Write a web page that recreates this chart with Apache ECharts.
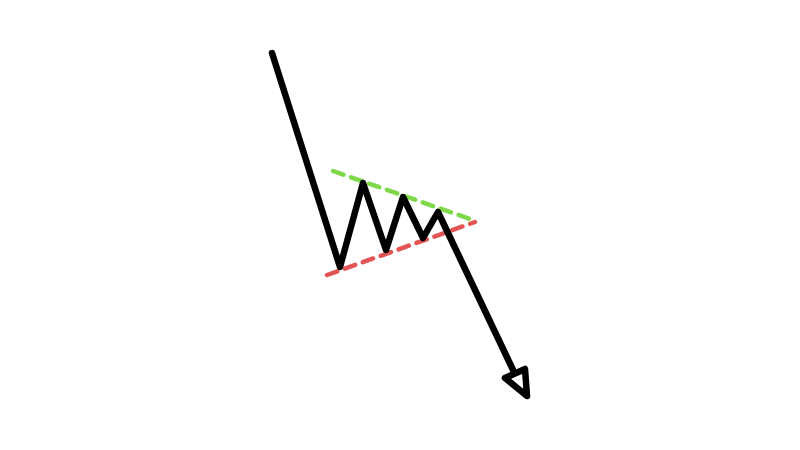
<!DOCTYPE html>
<html>
<head>
<meta charset="utf-8">
<script src="https://cdn.jsdelivr.net/npm/echarts@6/dist/echarts.min.js"></script>
<style>
  html, body { margin: 0; padding: 0; background: #fff; }
  #main { width: 800px; height: 450px; }
</style>
</head>
<body>
<div id="main"></div>
<script>
// price path: drop, pennant swings, breakdown
var pathX = [272, 340, 363, 386, 403, 423, 438, 514];
var pathY = [53, 267, 183, 250, 197, 238, 212, 372];
// open arrow head at the end of the breakdown
var headX = [505, 525, 527, 505];
var headY = [378, 369, 396, 378];
// upper (resistance) and lower (support) trend lines
var upperX = [333, 473];
var upperY = [171, 220];
var lowerX = [327, 475];
var lowerY = [275, 222];

function pts(xs, ys) {
    return xs.map(function (x, i) { return [x, ys[i]]; });
}

var chart = echarts.init(document.getElementById('main'));
chart.setOption({
    backgroundColor: '#fff',
    animation: false,
    grid: { left: 0, right: 0, top: 0, bottom: 0 },
    xAxis: { type: 'value', min: 0, max: 800, show: false },
    yAxis: { type: 'value', min: 0, max: 450, inverse: true, show: false },
    series: [
        {
            type: 'line', data: pts(upperX, upperY), symbol: 'none',
            lineStyle: { color: '#7fd84a', width: 4.5, type: [11, 8], cap: 'round' }
        },
        {
            type: 'line', data: pts(lowerX, lowerY), symbol: 'none',
            lineStyle: { color: '#e35454', width: 4.5, type: [11, 8], cap: 'round' }
        },
        {
            type: 'line', data: pts(pathX, pathY), symbol: 'none',
            lineStyle: { color: '#000', width: 6.5, cap: 'round', join: 'round' }
        },
        {
            type: 'line', data: pts(headX, headY), symbol: 'none',
            lineStyle: { color: '#000', width: 6.5, cap: 'round', join: 'round' }
        }
    ]
});
</script>
</body>
</html>
